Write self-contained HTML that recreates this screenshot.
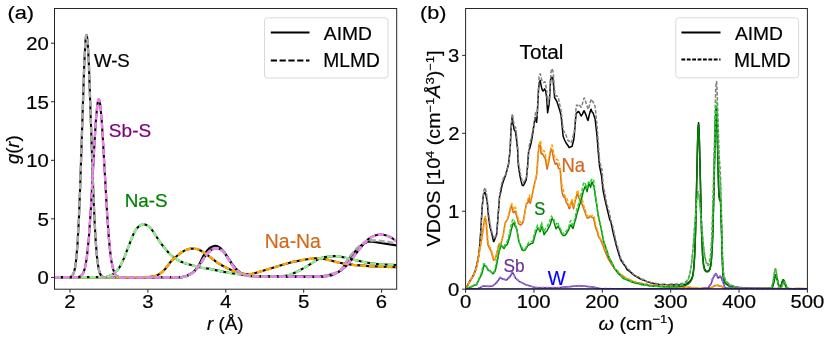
<!DOCTYPE html><html><head><meta charset="utf-8"><style>html,body{margin:0;padding:0;background:#fff;width:830px;height:340px;overflow:hidden} svg{will-change:transform}</style></head><body><svg width="830" height="340" viewBox="0 0 830 340" style="display:block;font-family:'Liberation Sans', sans-serif"><style>text{stroke-width:0.2px}</style>
<rect width="830" height="340" fill="#fff"/>
<defs><clipPath id="ca"><rect x="54.4" y="8.5" width="342.4" height="280.7"/></clipPath><clipPath id="cb"><rect x="465.6" y="8.5" width="341.8" height="280.7"/></clipPath></defs>
<g clip-path="url(#ca)" fill="none" stroke-linejoin="round">
<path d="M54.4,277.3 L143.4,277.3 L148.7,277.1 L153.7,276.4 L155.9,275.8 L157.9,274.9 L160.2,273.5 L162.4,271.8 L165.2,269.0 L169.7,263.0 L171.4,260.9 L175.7,257.0 L180.9,252.8 L183.9,250.9 L186.7,249.6 L189.2,248.9 L191.9,248.6 L194.4,248.7 L196.7,249.0 L198.9,249.7 L200.9,250.7 L206.2,254.1 L217.7,262.8 L222.2,265.5 L227.7,268.4 L232.4,270.5 L236.9,272.2 L241.2,273.4 L244.7,274.0 L248.9,274.2 L252.2,273.8 L258.9,272.0 L283.6,264.4 L290.6,262.4 L303.9,259.7 L310.9,258.7 L315.4,258.3 L319.1,258.3 L322.9,258.7 L326.9,259.6 L339.4,262.8 L346.1,263.9 L353.4,264.9 L368.6,266.1 L396.6,267.3" stroke="#000" stroke-width="2.1"/>
<path d="M54.4,277.3 L103.4,277.3 L105.7,277.0 L107.9,276.5 L110.2,275.6 L112.2,274.6 L114.4,273.0 L117.7,269.7 L119.2,267.8 L120.9,264.7 L124.4,257.4 L126.4,251.8 L133.2,234.7 L135.4,230.3 L137.2,227.9 L139.2,226.0 L141.4,224.8 L143.7,224.3 L145.2,224.5 L146.7,225.1 L148.7,226.5 L150.4,228.1 L153.7,232.2 L160.2,242.5 L165.9,249.7 L168.9,253.0 L171.9,255.9 L174.7,258.1 L177.9,260.1 L181.2,261.8 L183.9,262.9 L197.7,266.8 L201.9,267.7 L209.9,268.9 L221.2,271.4 L231.4,273.3 L246.2,275.3 L254.4,276.0 L262.1,276.5 L269.6,276.6 L276.6,276.5 L281.6,276.2 L286.9,275.5 L291.1,274.4 L297.4,271.5 L304.6,267.6 L312.4,262.9 L317.1,259.8 L319.6,258.5 L321.9,257.7 L324.6,257.1 L333.9,256.1 L337.4,256.2 L341.1,256.7 L363.6,262.0 L370.9,263.4 L379.6,264.2 L396.6,265.0" stroke="#000" stroke-width="2.1"/>
<path d="M54.4,277.3 L68.2,277.3 L70.2,277.0 L71.4,276.4 L72.2,275.8 L72.9,274.8 L73.9,272.5 L74.9,268.6 L75.9,262.2 L77.4,246.0 L78.9,219.1 L80.4,180.6 L84.2,65.8 L85.4,42.1 L85.9,37.1 L86.4,35.0 L86.7,35.1 L86.9,35.8 L87.7,42.1 L88.9,64.6 L93.4,194.9 L94.7,223.5 L95.7,240.9 L96.9,256.4 L98.4,267.6 L99.2,270.9 L99.9,273.2 L100.9,275.2 L102.2,276.5 L103.7,277.1 L105.7,277.3 L120.7,277.4 L180.2,277.3 L182.2,277.1 L184.4,276.6 L186.7,275.9 L188.4,275.0 L192.7,272.3 L194.7,270.6 L196.4,268.6 L198.2,265.9 L199.9,262.9 L203.4,255.7 L206.9,250.8 L208.9,248.7 L210.9,247.2 L213.2,246.2 L215.2,245.8 L216.7,246.0 L218.4,246.7 L220.2,247.8 L221.9,249.4 L224.2,251.9 L231.4,262.9 L235.2,267.9 L237.9,270.6 L240.7,272.9 L242.7,274.1 L244.9,274.9 L247.9,275.6 L251.2,275.9 L275.4,276.3 L303.6,276.6 L317.9,276.4 L322.6,276.2 L327.9,275.3 L334.4,273.5 L337.9,272.2 L340.6,270.5 L342.1,268.8 L350.6,256.5 L355.9,250.4 L358.4,247.8 L360.6,245.8 L364.1,243.5 L366.9,242.1 L369.1,241.5 L372.6,241.7 L396.6,245.4" stroke="#000" stroke-width="2.1"/>
<path d="M54.4,277.3 L74.9,277.3 L77.4,277.2 L79.2,276.9 L80.9,276.0 L82.4,274.4 L83.7,272.0 L84.9,268.1 L85.9,263.3 L86.9,256.8 L88.9,237.4 L90.9,208.4 L94.4,144.4 L95.9,120.3 L97.4,104.3 L98.2,100.4 L98.7,99.4 L98.9,99.5 L99.4,100.5 L100.2,104.5 L101.7,120.3 L102.9,139.6 L107.2,215.1 L108.7,235.9 L109.9,249.4 L111.4,260.9 L112.2,265.1 L113.2,269.3 L114.2,272.2 L115.2,274.2 L116.4,275.7 L117.7,276.6 L119.7,277.2 L122.4,277.4 L147.2,277.5 L180.2,277.3 L182.4,277.1 L184.9,276.5 L187.2,275.7 L189.4,274.7 L192.7,272.8 L194.4,271.5 L197.4,267.8 L205.2,256.1 L207.4,253.2 L209.7,251.0 L211.9,249.4 L213.9,248.3 L215.9,247.9 L217.7,248.2 L219.7,248.9 L221.4,250.0 L223.2,251.6 L225.2,254.1 L233.2,266.2 L234.9,268.4 L236.9,270.4 L239.2,272.3 L241.4,273.8 L243.2,274.6 L245.7,275.4 L248.7,276.0 L251.4,276.3 L275.9,276.8 L308.9,276.9 L321.9,276.7 L326.6,276.3 L331.1,275.4 L335.4,273.7 L339.9,271.1 L344.4,267.6 L346.6,265.4 L349.1,262.5 L364.6,242.5 L367.9,239.4 L369.9,238.0 L371.9,236.9 L374.9,235.6 L378.1,234.8 L380.9,234.5 L383.4,234.7 L386.4,235.5 L390.6,237.2 L392.6,238.5 L396.6,241.5" stroke="#000" stroke-width="2.1"/>
<path d="M54.4,277.3 L143.4,277.3 L148.7,277.1 L153.7,276.4 L155.9,275.8 L157.9,274.9 L160.2,273.5 L162.4,271.8 L165.2,269.0 L169.7,263.0 L171.4,260.9 L175.7,257.0 L180.9,252.8 L183.9,250.9 L186.7,249.6 L189.2,248.9 L191.9,248.6 L194.4,248.7 L196.7,249.0 L198.9,249.7 L200.9,250.7 L206.2,254.1 L217.7,262.8 L222.2,265.5 L227.7,268.4 L232.4,270.5 L236.9,272.2 L241.2,273.4 L244.7,274.0 L248.9,274.2 L252.2,273.8 L258.9,272.0 L283.6,264.4 L290.6,262.4 L303.9,259.7 L310.9,258.7 L315.4,258.3 L319.1,258.3 L322.9,258.7 L326.9,259.6 L339.4,262.8 L346.1,263.9 L353.4,264.9 L368.6,266.1 L396.6,267.3" stroke="#ffa500" stroke-width="2.5" stroke-dasharray="6.1 2.7"/>
<path d="M54.4,277.3 L103.4,277.3 L105.7,277.0 L107.9,276.5 L110.2,275.6 L112.2,274.6 L114.4,273.0 L117.7,269.7 L119.2,267.8 L120.9,264.7 L124.4,257.4 L126.4,251.8 L133.2,234.7 L135.4,230.3 L137.2,227.9 L139.2,226.0 L141.4,224.8 L143.7,224.3 L145.2,224.5 L146.7,225.1 L148.7,226.5 L150.4,228.1 L153.7,232.2 L160.2,242.5 L165.9,249.7 L168.9,253.0 L171.9,255.9 L174.7,258.1 L177.9,260.1 L181.2,261.8 L183.9,262.9 L197.7,266.8 L201.9,267.7 L209.9,268.9 L221.2,271.4 L231.4,273.3 L246.2,275.3 L254.4,276.0 L262.1,276.5 L269.6,276.6 L276.6,276.5 L281.6,276.2 L286.9,275.5 L291.1,274.4 L297.4,271.5 L304.6,267.6 L312.4,262.9 L317.1,259.8 L319.6,258.5 L321.9,257.7 L324.6,257.1 L333.9,256.1 L337.4,256.2 L341.1,256.7 L363.6,262.0 L370.9,263.4 L379.6,264.2 L396.6,265.0" stroke="#90ee90" stroke-width="2.5" stroke-dasharray="6.1 2.7"/>
<path d="M54.4,277.3 L68.2,277.3 L70.2,277.0 L71.4,276.4 L72.2,275.8 L72.9,274.8 L73.9,272.5 L74.9,268.6 L75.9,262.2 L77.4,246.0 L78.9,219.1 L80.4,180.6 L84.2,65.8 L85.4,42.1 L85.9,37.1 L86.4,35.0 L86.7,35.1 L86.9,35.8 L87.7,42.1 L88.9,64.6 L93.4,194.8 L94.7,223.5 L95.7,240.9 L96.9,256.4 L98.4,267.5 L99.2,270.9 L99.9,273.2 L100.9,275.2 L102.2,276.4 L103.2,276.9 L104.4,277.2 L109.4,277.4 L179.9,277.3 L182.4,277.1 L184.7,276.7 L187.9,275.6 L193.2,272.7 L194.7,271.6 L197.7,267.9 L201.4,262.5 L205.4,256.3 L207.7,253.5 L209.9,251.4 L212.4,249.6 L214.4,248.6 L216.2,248.3 L217.9,248.6 L219.7,249.2 L221.2,250.1 L222.7,251.3 L224.7,253.7 L232.4,265.4 L235.2,268.9 L237.7,271.3 L240.4,273.3 L242.2,274.3 L244.4,275.0 L247.9,275.8 L251.2,276.1 L272.6,276.5 L301.9,276.7 L315.4,276.5 L322.1,276.2 L327.4,275.2 L334.6,273.1 L337.9,271.8 L340.6,270.0 L342.1,268.2 L344.4,264.6 L350.1,256.3 L355.4,249.9 L357.9,247.4 L360.1,245.5 L364.4,242.6 L367.4,241.0 L368.9,240.5 L370.9,240.3 L377.9,240.6 L387.1,241.7 L396.6,243.5" stroke="#aaaaaa" stroke-width="2.5" stroke-dasharray="6.1 2.7"/>
<path d="M54.4,277.3 L74.9,277.3 L77.4,277.2 L79.2,276.9 L80.9,276.0 L82.4,274.4 L83.7,272.0 L84.9,268.1 L85.9,263.3 L86.9,256.8 L88.9,237.4 L90.9,208.4 L94.4,144.4 L95.9,120.3 L97.4,104.3 L98.2,100.4 L98.7,99.4 L98.9,99.5 L99.4,100.5 L100.2,104.5 L101.7,120.3 L102.9,139.6 L107.2,215.1 L108.7,235.9 L109.9,249.4 L111.4,260.9 L112.2,265.1 L113.2,269.3 L114.2,272.2 L115.2,274.2 L116.4,275.7 L117.7,276.6 L119.7,277.2 L122.4,277.4 L147.2,277.5 L180.2,277.3 L182.4,277.1 L184.9,276.5 L187.2,275.7 L189.4,274.7 L192.7,272.8 L194.4,271.5 L197.4,267.8 L205.2,256.1 L207.4,253.2 L209.7,251.0 L211.9,249.4 L213.9,248.3 L215.9,247.9 L217.7,248.2 L219.7,248.9 L221.4,250.0 L223.2,251.6 L225.2,254.1 L233.2,266.2 L234.9,268.4 L236.9,270.4 L239.2,272.3 L241.4,273.8 L243.2,274.6 L245.7,275.4 L248.7,276.0 L251.4,276.3 L275.9,276.8 L308.9,276.9 L321.9,276.7 L326.6,276.3 L331.1,275.4 L335.4,273.7 L339.9,271.1 L344.4,267.6 L346.6,265.4 L349.1,262.5 L364.6,242.5 L367.9,239.4 L369.9,238.0 L371.9,236.9 L374.9,235.6 L378.1,234.8 L380.9,234.5 L383.4,234.7 L386.4,235.5 L390.6,237.2 L392.6,238.5 L396.6,241.5" stroke="#ee82ee" stroke-width="2.5" stroke-dasharray="6.1 2.7"/>
</g>
<g fill="none" stroke="#262626" stroke-width="1.0">
<rect x="54.5" y="8.5" width="342.2" height="280.7"/>
<line x1="69.98" y1="289.2" x2="69.98" y2="292.7"/>
<line x1="147.88" y1="289.2" x2="147.88" y2="292.7"/>
<line x1="225.78" y1="289.2" x2="225.78" y2="292.7"/>
<line x1="303.68" y1="289.2" x2="303.68" y2="292.7"/>
<line x1="381.58" y1="289.2" x2="381.58" y2="292.7"/>
<line x1="51" y1="277.40" x2="54.5" y2="277.40"/>
<line x1="51" y1="218.85" x2="54.5" y2="218.85"/>
<line x1="51" y1="160.30" x2="54.5" y2="160.30"/>
<line x1="51" y1="101.75" x2="54.5" y2="101.75"/>
<line x1="51" y1="43.20" x2="54.5" y2="43.20"/>
</g>
<g>
<text x="64.31" y="308.40" font-size="18.07" fill="#000" stroke="#000" textLength="11.26" lengthAdjust="spacingAndGlyphs">2</text>
<text x="142.27" y="308.40" font-size="18.07" fill="#000" stroke="#000" textLength="11.26" lengthAdjust="spacingAndGlyphs">3</text>
<text x="220.14" y="308.40" font-size="18.38" fill="#000" stroke="#000" textLength="11.45" lengthAdjust="spacingAndGlyphs">4</text>
<text x="297.98" y="308.40" font-size="18.38" fill="#000" stroke="#000" textLength="11.45" lengthAdjust="spacingAndGlyphs">5</text>
<text x="375.85" y="308.40" font-size="18.07" fill="#000" stroke="#000" textLength="11.26" lengthAdjust="spacingAndGlyphs">6</text>
<text x="37.47" y="284.20" font-size="18.07" fill="#000" stroke="#000" textLength="11.26" lengthAdjust="spacingAndGlyphs">0</text>
<text x="37.42" y="225.65" font-size="18.38" fill="#000" stroke="#000" textLength="11.45" lengthAdjust="spacingAndGlyphs">5</text>
<text x="26.25" y="167.10" font-size="18.07" fill="#000" stroke="#000" textLength="22.52" lengthAdjust="spacingAndGlyphs">10</text>
<text x="26.01" y="108.55" font-size="18.38" fill="#000" stroke="#000" textLength="22.89" lengthAdjust="spacingAndGlyphs">15</text>
<text x="26.25" y="50.00" font-size="18.07" fill="#000" stroke="#000" textLength="22.52" lengthAdjust="spacingAndGlyphs">20</text>
</g>
<text x="7.43" y="19.09" font-size="18.04" font-style="normal" fill="#000" stroke="#000" textLength="26.60" lengthAdjust="spacingAndGlyphs" >(a)</text>
<text x="93.89" y="66.78" font-size="18.91" font-style="normal" fill="#000" stroke="#000" textLength="35.96" lengthAdjust="spacingAndGlyphs" >W-S</text>
<text x="108.83" y="136.78" font-size="19.26" font-style="normal" fill="#800080" stroke="#800080" textLength="42.35" lengthAdjust="spacingAndGlyphs" >Sb-S</text>
<text x="124.69" y="206.59" font-size="18.77" font-style="normal" fill="#008000" stroke="#008000" textLength="42.94" lengthAdjust="spacingAndGlyphs" >Na-S</text>
<text x="264.85" y="247.87" font-size="19.94" font-style="normal" fill="#d2691e" stroke="#d2691e" textLength="56.03" lengthAdjust="spacingAndGlyphs" >Na-Na</text>
<rect x="264.5" y="17.8" width="123.5" height="60.2" rx="3" ry="3" fill="#fff" fill-opacity="0.8" stroke="#d9d9d9" stroke-width="1"/>
<line x1="270.8" y1="32.6" x2="309.5" y2="32.6" stroke="#000" stroke-width="2"/>
<line x1="270.8" y1="60.4" x2="309.5" y2="60.4" stroke="#000" stroke-width="2" stroke-dasharray="6.2 2.6"/>
<text x="323.80" y="39.80" font-size="19.25" font-style="normal" fill="#000" stroke="#000" textLength="48.14" lengthAdjust="spacingAndGlyphs" >AIMD</text>
<text x="323.36" y="66.60" font-size="19.54" font-style="normal" fill="#000" stroke="#000" textLength="56.54" lengthAdjust="spacingAndGlyphs" >MLMD</text>
<g clip-path="url(#cb)" fill="none" stroke-linejoin="round" stroke-linecap="butt">
<path d="M465.6,288.7 L467.1,286.3 L470.6,279.6 L472.1,277.4 L474.1,273.8 L475.6,269.8 L477.6,261.2 L479.1,253.0 L480.6,233.3 L482.1,208.0 L483.1,197.5 L483.6,194.3 L484.6,192.4 L485.1,192.4 L486.1,195.9 L487.1,201.1 L488.6,217.6 L490.1,227.6 L491.1,230.9 L493.6,241.5 L494.1,241.1 L496.1,235.8 L496.6,234.9 L499.6,196.4 L500.6,192.7 L502.1,185.2 L503.6,180.4 L505.6,175.2 L508.6,164.0 L510.1,149.6 L511.1,128.1 L512.1,116.8 L514.1,129.8 L515.1,130.8 L515.6,132.6 L516.1,136.2 L517.6,149.3 L518.1,161.9 L518.6,167.1 L520.1,176.6 L522.1,185.1 L523.1,185.7 L524.1,184.4 L526.1,180.2 L526.6,176.8 L527.6,165.9 L528.6,151.6 L529.1,149.6 L529.6,148.9 L531.1,143.0 L532.1,137.6 L535.1,117.6 L535.6,118.0 L536.6,122.3 L537.1,117.2 L538.6,88.5 L539.1,84.2 L539.6,82.1 L540.1,80.5 L541.6,87.7 L542.6,90.8 L543.1,91.0 L544.1,89.7 L544.6,88.8 L545.6,91.0 L546.6,97.0 L547.6,112.8 L549.1,104.0 L549.6,98.3 L550.6,79.8 L551.6,77.5 L552.1,77.2 L552.6,77.8 L553.1,79.7 L554.6,97.6 L556.6,101.0 L557.1,102.3 L560.1,111.5 L561.1,115.8 L563.1,136.3 L564.6,140.0 L566.1,143.0 L568.1,145.7 L569.1,147.6 L572.1,146.3 L573.6,140.3 L574.1,137.1 L576.1,113.4 L577.6,112.3 L578.1,111.4 L579.1,112.0 L581.1,116.0 L582.6,113.9 L583.6,111.4 L584.1,110.7 L585.6,114.1 L587.6,119.8 L588.1,120.4 L589.1,115.5 L590.6,110.2 L591.1,109.2 L592.1,112.0 L593.1,113.1 L595.1,119.1 L597.1,136.7 L598.1,150.5 L599.6,166.6 L601.6,176.4 L603.1,190.6 L605.1,200.3 L609.6,219.1 L611.1,222.8 L613.1,232.5 L616.1,244.7 L619.1,255.0 L620.6,259.5 L623.6,264.1 L625.6,266.8 L627.1,269.7 L630.6,272.0 L632.1,273.7 L634.6,275.7 L641.6,279.5 L644.6,280.4 L646.6,281.6 L648.1,281.9 L651.1,283.1 L656.1,284.1 L657.6,283.9 L659.6,284.9 L660.6,285.0 L662.6,284.5 L665.6,284.6 L667.1,285.3 L670.1,284.8 L678.1,285.1 L681.1,285.0 L683.6,284.7 L686.6,283.7 L688.6,282.5 L690.1,281.1 L691.6,278.9 L692.6,276.0 L693.6,270.0 L694.6,256.5 L695.6,229.3 L697.6,141.6 L698.1,126.8 L698.6,122.8 L699.1,130.8 L699.6,148.1 L701.6,231.9 L702.6,254.8 L703.6,265.2 L704.6,269.2 L705.6,270.7 L706.1,271.0 L707.1,271.2 L708.1,271.1 L708.6,270.8 L709.6,269.5 L710.6,266.1 L711.1,262.7 L712.1,249.5 L712.6,238.1 L713.6,203.4 L715.1,133.5 L715.6,116.0 L716.1,108.1 L716.6,112.0 L717.1,126.6 L718.6,186.6 L719.1,196.0 L719.6,197.6 L720.1,196.8 L720.6,200.8 L722.6,266.2 L723.1,274.6 L723.6,278.9 L724.1,280.9 L724.6,281.9 L726.1,283.7 L728.6,285.4 L731.6,286.6 L735.6,287.4 L741.6,288.0 L750.6,288.4 L763.6,288.6 L770.1,288.5 L771.6,287.9 L772.6,286.5 L773.6,283.2 L775.1,276.1 L775.6,274.9 L776.1,275.0 L776.6,276.5 L778.6,285.3 L779.1,286.4 L779.6,287.0 L780.1,287.0 L780.6,286.4 L781.1,285.4 L782.6,280.7 L783.1,279.8 L783.6,280.0 L784.1,281.0 L786.1,287.1 L786.6,287.8 L787.6,288.5 L789.1,288.7 L792.1,288.9 L807.1,289.0" stroke="#000000" stroke-width="1.5"/>
<path d="M465.6,289.0 L466.1,288.9 L469.1,282.2 L470.6,279.7 L472.1,277.8 L474.1,274.3 L475.6,270.1 L479.1,254.9 L480.6,237.1 L482.1,208.4 L482.6,202.0 L483.6,191.6 L484.1,189.8 L485.1,187.6 L485.6,189.4 L487.1,197.5 L489.1,217.4 L490.1,224.6 L491.1,229.2 L494.1,239.1 L496.6,233.9 L497.1,230.7 L499.6,195.9 L500.1,191.1 L502.1,181.9 L504.1,176.8 L505.6,174.3 L508.6,163.7 L509.1,161.0 L510.1,149.9 L511.6,121.5 L512.1,115.5 L512.6,114.0 L514.1,125.4 L514.6,126.7 L515.1,126.8 L515.6,127.4 L516.1,130.8 L517.6,144.4 L518.6,163.2 L520.6,174.9 L521.6,178.6 L522.1,181.6 L522.6,182.4 L523.1,182.7 L523.6,182.2 L524.6,180.8 L526.6,176.5 L528.1,161.9 L529.1,146.1 L531.1,138.7 L532.6,131.4 L534.6,119.9 L535.6,112.5 L536.1,114.2 L537.1,115.7 L539.1,76.7 L540.1,73.7 L540.6,74.9 L541.6,79.8 L542.6,81.3 L543.1,82.5 L543.6,82.5 L544.6,81.8 L545.1,81.9 L546.6,89.5 L547.6,102.9 L548.1,105.4 L549.6,95.0 L551.1,71.1 L552.1,68.7 L553.1,71.7 L555.1,96.0 L556.6,95.7 L557.1,96.1 L558.6,98.8 L560.1,106.6 L561.1,110.4 L563.1,128.5 L563.6,130.8 L565.1,133.0 L568.1,140.8 L569.1,141.3 L569.6,140.8 L571.1,142.5 L572.1,140.2 L573.1,135.8 L574.1,133.2 L574.6,128.7 L576.1,107.0 L576.6,105.0 L577.6,105.7 L578.1,104.6 L578.6,104.4 L580.6,106.5 L581.1,107.3 L581.6,106.5 L584.1,97.9 L584.6,98.1 L588.1,109.3 L588.6,108.4 L591.1,99.2 L591.6,99.5 L592.1,101.0 L593.1,101.9 L595.1,106.4 L597.1,126.3 L599.6,160.9 L600.1,163.8 L601.6,167.8 L602.1,170.6 L603.1,184.2 L603.6,187.8 L604.6,191.8 L606.6,202.9 L609.6,213.7 L611.1,221.1 L612.6,225.8 L616.1,241.8 L621.1,259.1 L622.6,261.1 L624.1,263.9 L625.6,265.5 L627.1,268.1 L628.6,269.3 L630.6,271.6 L632.1,272.4 L633.6,274.7 L635.1,275.0 L636.6,276.4 L638.6,276.8 L641.6,279.2 L643.1,279.3 L643.6,279.5 L646.6,281.6 L649.6,281.7 L651.1,282.9 L652.6,282.6 L654.1,282.7 L659.1,284.5 L660.6,284.3 L662.6,284.6 L664.1,284.4 L667.1,285.2 L669.6,285.4 L670.1,284.0 L677.6,284.1 L680.1,283.8 L682.6,283.3 L685.1,282.2 L686.1,281.4 L687.1,280.3 L688.6,277.5 L689.6,274.3 L690.6,269.4 L691.6,262.3 L693.1,246.8 L696.6,199.7 L697.6,192.5 L698.1,191.5 L698.6,192.5 L699.6,199.4 L702.6,236.0 L703.6,246.4 L704.6,254.2 L705.6,259.5 L706.6,262.6 L707.6,264.0 L708.1,264.1 L708.6,263.8 L709.1,262.8 L710.1,258.5 L710.6,254.4 L711.6,240.1 L712.1,229.0 L713.1,196.9 L715.6,92.0 L716.1,82.2 L716.6,81.6 L717.1,90.2 L719.1,154.9 L720.1,168.0 L720.6,178.4 L722.6,257.5 L723.1,267.7 L723.6,273.2 L724.1,276.1 L725.1,279.1 L726.6,281.6 L727.6,282.7 L729.1,283.9 L732.1,285.5 L736.1,286.6 L742.1,287.5 L750.6,288.1 L763.1,288.4 L769.6,288.2 L770.6,287.9 L771.1,287.5 L772.1,285.7 L773.1,281.3 L774.6,271.1 L775.1,269.0 L775.6,268.8 L776.1,270.6 L778.1,283.5 L778.6,285.4 L779.1,286.7 L779.6,287.4 L780.1,287.7 L780.6,287.7 L781.6,286.9 L783.6,282.4 L784.1,281.7 L784.6,281.8 L785.1,282.7 L787.1,287.4 L787.6,288.0 L788.6,288.5 L793.1,288.8 L807.1,289.0" stroke="#808080" stroke-width="1.5" stroke-dasharray="3.7 1.6"/>
<path d="M465.6,289.1 L468.1,284.3 L473.6,275.4 L475.1,270.7 L476.6,267.2 L481.6,239.3 L484.6,218.7 L485.1,217.6 L486.1,222.5 L487.6,241.9 L488.1,245.4 L489.6,248.5 L490.6,249.9 L491.1,251.2 L493.6,260.2 L494.1,260.1 L495.1,259.5 L496.1,256.1 L498.6,245.3 L499.1,243.9 L500.6,243.9 L501.1,243.2 L502.1,239.1 L503.1,235.9 L505.1,223.1 L507.6,218.8 L508.6,216.0 L510.6,208.0 L511.1,206.6 L511.6,205.7 L513.1,212.3 L513.6,212.8 L514.6,211.3 L515.1,211.1 L516.6,215.7 L518.6,223.7 L520.1,224.8 L520.6,225.0 L521.6,224.3 L523.1,222.0 L526.1,205.1 L526.6,203.9 L527.6,203.1 L528.1,202.1 L529.1,198.1 L530.1,203.2 L530.6,202.5 L534.6,183.2 L536.1,178.1 L536.6,175.3 L538.6,148.8 L539.1,145.1 L540.1,144.9 L541.1,153.6 L541.6,154.0 L542.1,153.5 L542.6,153.7 L544.1,157.0 L544.6,156.9 L545.1,158.3 L545.6,160.7 L547.1,169.1 L548.6,162.9 L550.6,150.7 L551.6,149.4 L552.1,150.7 L553.6,159.1 L555.1,163.8 L555.6,164.2 L556.6,163.1 L557.1,163.7 L557.6,165.0 L558.6,168.5 L559.6,168.8 L560.1,169.3 L561.6,188.8 L562.1,192.2 L563.1,195.9 L563.6,196.8 L564.6,197.2 L565.1,198.3 L566.1,201.7 L566.6,202.9 L567.1,203.5 L568.1,205.4 L569.1,208.4 L569.6,208.7 L571.6,201.2 L572.1,202.1 L573.1,207.2 L573.6,208.7 L575.1,200.9 L576.1,198.3 L577.1,193.6 L577.6,193.9 L579.1,198.5 L579.6,199.7 L581.6,203.0 L587.1,218.0 L588.6,218.1 L590.1,216.3 L590.6,216.2 L592.1,217.6 L593.1,217.7 L593.6,218.2 L595.6,227.7 L597.1,231.4 L598.6,236.8 L600.1,238.8 L603.1,245.7 L604.6,250.3 L608.1,258.5 L611.6,264.4 L616.1,270.8 L617.6,272.0 L620.6,275.2 L622.6,275.8 L624.1,276.9 L625.6,278.8 L627.1,279.0 L630.1,279.9 L633.6,281.9 L635.1,282.2 L637.1,282.9 L638.6,282.9 L640.1,283.8 L641.6,283.3 L644.6,284.5 L646.6,284.3 L648.1,285.0 L649.6,285.4 L652.6,285.6 L654.6,285.2 L656.1,285.5 L657.6,285.4 L659.1,286.1 L661.1,285.8 L664.1,286.6 L667.1,286.7 L669.1,286.4 L672.1,286.8 L675.1,286.6 L676.6,286.8 L678.6,286.7 L680.1,287.0 L681.6,287.6 L689.6,287.3 L694.1,288.2 L696.1,287.9 L697.6,288.3 L699.1,288.4 L704.1,288.3 L705.6,288.0 L707.1,288.2 L708.6,287.9 L710.1,287.9 L712.1,287.2 L715.1,285.5 L717.1,285.4 L721.6,286.5 L723.1,287.8 L724.1,288.2 L725.1,288.2 L726.6,288.4 L728.1,288.3 L729.6,288.6 L732.6,288.6 L734.6,288.3 L739.1,288.7 L740.6,288.3 L742.6,288.7 L745.6,288.6 L748.6,288.8 L753.6,288.2 L755.1,288.7 L756.6,288.8 L758.6,288.5 L763.1,288.7 L764.6,288.3 L766.6,288.8 L771.1,288.5 L774.1,288.8 L777.6,288.8 L779.1,288.3 L779.6,288.3 L784.1,288.8 L785.6,288.4 L787.6,288.8 L788.6,288.8 L790.6,288.4 L792.1,288.7 L795.1,288.4 L798.6,288.6 L803.1,288.4 L804.6,288.7 L807.1,288.8" stroke="#d2691e" stroke-width="1.5"/>
<path d="M465.6,289.2 L466.1,289.0 L468.6,283.7 L472.1,277.2 L473.6,275.4 L474.1,274.5 L477.1,266.7 L481.6,238.8 L483.1,231.2 L485.1,216.5 L485.6,216.4 L486.6,221.4 L488.1,242.0 L488.6,244.4 L489.6,246.6 L491.1,249.0 L494.1,260.4 L495.1,259.1 L495.6,257.9 L499.1,244.1 L499.6,243.5 L500.6,243.0 L501.1,242.5 L501.6,241.3 L503.6,233.6 L505.1,224.1 L505.6,222.3 L507.6,219.1 L509.6,210.0 L511.6,203.7 L512.1,203.7 L513.6,210.0 L515.1,207.2 L515.6,208.0 L517.1,215.2 L519.1,220.7 L520.1,221.6 L520.6,222.6 L521.1,222.8 L521.6,222.7 L523.1,220.7 L523.6,220.6 L526.6,202.3 L528.1,199.2 L529.1,196.0 L529.6,195.1 L530.6,201.1 L531.1,199.9 L534.1,187.4 L535.1,181.1 L536.1,175.9 L536.6,174.5 L537.1,170.9 L539.1,144.9 L539.6,141.7 L540.1,140.8 L540.6,140.9 L541.6,150.2 L542.1,150.9 L542.6,151.2 L543.6,150.6 L544.1,150.6 L545.1,153.3 L547.1,164.1 L547.6,165.4 L548.6,159.0 L551.1,146.7 L552.1,144.9 L554.1,154.7 L555.1,158.1 L555.6,159.2 L556.1,159.5 L556.6,159.3 L557.1,159.5 L558.1,160.1 L558.6,161.8 L560.6,169.6 L562.1,186.1 L562.6,188.0 L563.1,189.2 L564.6,195.4 L565.1,196.2 L566.1,196.8 L566.6,197.5 L567.6,200.2 L569.6,207.3 L570.1,206.7 L572.1,199.5 L572.6,201.0 L573.6,206.0 L574.1,206.3 L575.6,197.3 L577.6,190.0 L579.1,195.6 L579.6,196.1 L580.6,196.0 L581.1,196.6 L582.1,198.8 L584.1,206.8 L585.6,210.9 L587.1,216.2 L587.6,216.5 L588.6,215.0 L589.1,215.0 L590.6,216.0 L592.1,215.8 L593.6,215.3 L594.1,216.4 L596.1,226.3 L598.6,234.0 L600.1,237.8 L603.1,243.3 L605.1,248.9 L606.6,252.6 L608.1,255.5 L609.6,259.5 L611.1,261.9 L614.1,267.5 L616.1,269.9 L619.1,272.4 L620.6,274.0 L624.1,276.4 L627.1,278.9 L629.1,279.1 L632.1,280.9 L635.1,281.6 L637.6,282.8 L640.1,282.9 L641.6,283.4 L643.1,283.6 L644.6,284.2 L646.6,284.2 L649.6,285.3 L651.1,285.5 L652.6,285.2 L654.6,285.4 L656.1,285.3 L662.1,286.2 L665.6,285.7 L667.1,286.1 L670.1,286.0 L672.1,286.7 L673.6,286.3 L675.1,286.8 L676.6,286.7 L678.6,287.3 L680.1,287.2 L681.6,286.7 L683.1,286.9 L684.6,287.5 L688.1,287.4 L689.6,287.8 L691.1,287.9 L696.1,287.6 L697.6,287.9 L699.1,287.8 L701.1,288.3 L702.6,288.2 L704.1,287.8 L705.6,288.2 L707.1,287.7 L708.6,287.7 L710.1,288.0 L710.6,288.0 L712.1,287.1 L713.6,286.7 L715.1,285.8 L717.6,284.9 L718.6,285.0 L720.1,286.1 L721.6,286.3 L724.1,288.3 L725.1,288.6 L728.1,288.6 L729.6,288.3 L732.6,288.6 L734.6,288.1 L736.1,288.7 L737.6,288.7 L739.1,288.3 L740.6,288.6 L744.1,288.2 L745.6,288.6 L747.1,288.1 L748.6,288.6 L750.1,288.8 L752.1,288.3 L753.6,288.8 L755.1,288.2 L756.6,288.7 L758.6,288.4 L760.1,288.8 L761.6,288.4 L763.1,288.8 L765.1,288.2 L766.6,288.3 L768.1,288.8 L771.1,288.6 L772.6,288.2 L776.1,288.5 L777.6,288.2 L779.1,289.0 L782.6,289.0 L787.1,288.3 L788.6,288.8 L790.6,288.4 L792.1,288.7 L795.1,288.7 L797.1,288.4 L798.6,288.4 L800.1,288.7 L801.6,288.4 L803.1,288.8 L804.6,288.5 L807.1,288.6" stroke="#ffa500" stroke-width="1.5" stroke-dasharray="3.7 1.6"/>
<path d="M465.6,288.6 L467.1,288.3 L468.6,287.6 L471.6,286.8 L473.6,285.5 L475.1,284.9 L476.1,285.0 L476.6,284.7 L480.1,277.1 L481.6,274.6 L484.1,265.0 L485.1,265.9 L486.1,266.3 L488.1,270.1 L488.6,270.5 L489.6,270.5 L490.6,271.4 L492.6,273.6 L493.1,273.7 L494.6,271.9 L495.1,271.2 L496.6,265.1 L499.1,251.6 L501.1,245.3 L503.6,248.2 L504.1,248.5 L505.6,245.6 L507.1,244.6 L507.6,243.7 L510.1,235.2 L511.1,230.3 L513.1,223.5 L513.6,222.9 L514.1,222.9 L515.1,225.9 L516.6,228.8 L517.1,230.5 L519.1,242.5 L520.1,244.5 L521.6,248.8 L522.1,249.8 L523.1,250.4 L525.1,250.1 L527.6,245.9 L528.6,244.7 L529.1,244.4 L529.6,244.7 L531.1,243.4 L532.6,243.3 L533.1,242.8 L534.6,236.8 L536.1,231.8 L537.6,228.5 L538.1,227.9 L539.6,231.0 L540.1,231.7 L541.6,227.4 L542.1,226.6 L544.1,234.7 L545.6,232.3 L547.1,230.7 L550.1,224.8 L552.1,218.5 L553.6,220.4 L555.1,226.0 L556.1,228.8 L557.6,226.6 L558.1,226.2 L560.1,230.1 L561.6,233.7 L562.6,235.0 L563.1,235.4 L564.6,235.5 L565.1,235.2 L566.1,234.1 L568.6,229.9 L569.6,227.2 L570.6,225.3 L571.1,224.9 L572.6,228.3 L573.1,228.4 L574.1,224.1 L575.6,219.5 L576.6,215.1 L582.1,196.5 L583.6,190.1 L584.1,189.4 L585.1,186.4 L585.6,186.1 L587.1,191.7 L588.6,184.0 L589.1,183.7 L590.6,187.4 L591.6,182.6 L592.1,182.0 L593.6,186.1 L594.1,187.0 L595.1,194.9 L597.1,207.1 L598.1,215.3 L601.6,230.4 L603.1,238.8 L604.1,242.9 L605.1,245.4 L608.6,256.4 L609.6,258.8 L612.6,264.0 L614.6,269.0 L616.1,270.2 L617.6,272.6 L619.1,274.3 L620.6,275.4 L623.1,278.2 L625.6,279.4 L630.1,281.2 L632.1,282.3 L633.6,282.6 L636.6,283.6 L638.6,283.5 L639.6,283.8 L641.6,284.8 L643.1,284.7 L644.6,285.0 L646.6,285.0 L648.1,285.6 L649.6,285.9 L651.1,285.6 L653.1,286.2 L654.6,286.2 L656.1,285.9 L657.6,286.5 L659.1,286.5 L660.6,286.7 L662.6,286.6 L664.1,287.0 L665.6,287.1 L667.6,286.6 L669.6,287.1 L670.1,286.7 L677.1,286.7 L682.1,286.2 L685.6,285.4 L688.1,284.1 L689.6,282.8 L690.6,281.6 L692.1,278.7 L693.1,274.7 L694.1,265.7 L695.1,246.1 L695.6,230.6 L697.6,143.3 L698.1,128.6 L698.6,124.6 L699.1,132.6 L699.6,149.8 L701.6,233.0 L702.6,255.7 L703.6,266.0 L704.6,270.0 L705.1,270.9 L706.1,271.7 L707.6,271.9 L708.6,271.5 L709.6,270.2 L710.6,266.8 L711.6,258.3 L712.1,250.4 L713.1,224.0 L715.1,135.8 L715.6,118.5 L716.1,110.6 L716.6,114.5 L717.1,128.9 L718.6,188.5 L719.1,198.0 L719.6,200.0 L720.1,199.4 L720.6,203.5 L721.1,216.0 L722.1,253.2 L722.6,267.1 L723.1,275.3 L723.6,279.4 L724.1,281.4 L724.6,282.4 L726.1,284.1 L728.6,285.8 L731.6,286.9 L735.6,287.7 L741.6,288.2 L750.6,288.6 L763.6,288.8 L770.1,288.6 L771.6,288.0 L772.6,286.6 L773.6,283.3 L775.1,276.2 L775.6,275.0 L776.1,275.1 L776.6,276.6 L778.6,285.4 L779.1,286.5 L779.6,287.1 L780.1,287.0 L780.6,286.5 L781.1,285.4 L782.6,280.8 L783.1,279.9 L783.6,280.0 L784.1,281.1 L786.1,287.1 L786.6,287.9 L787.6,288.6 L789.1,288.8 L792.6,288.9 L807.1,289.0" stroke="#008000" stroke-width="1.5"/>
<path d="M465.6,288.4 L467.1,287.8 L469.1,287.2 L472.1,285.9 L475.1,285.4 L476.1,284.8 L478.6,279.5 L480.1,275.6 L481.1,273.5 L483.6,263.9 L484.1,263.7 L485.6,264.7 L488.1,269.4 L489.6,271.0 L490.6,271.4 L492.1,272.9 L492.6,273.1 L494.6,271.1 L498.1,253.5 L500.6,243.3 L503.6,248.1 L505.6,243.3 L507.1,241.7 L509.6,233.4 L510.6,227.6 L512.1,221.4 L512.6,219.8 L513.6,219.2 L515.1,222.6 L516.6,228.4 L518.6,240.8 L521.6,247.0 L523.1,249.1 L524.6,249.7 L526.6,246.5 L528.6,242.6 L529.6,241.9 L531.1,241.4 L532.6,241.3 L535.6,229.1 L537.6,225.1 L539.1,229.3 L539.6,230.0 L541.6,222.4 L543.6,231.8 L544.1,231.3 L545.6,228.5 L546.6,227.5 L547.1,226.6 L549.6,221.2 L550.6,218.1 L551.6,216.0 L552.1,217.3 L553.6,218.6 L555.6,225.2 L556.6,223.4 L557.6,222.2 L558.6,225.1 L560.1,228.0 L562.6,234.1 L563.1,234.0 L564.6,232.2 L565.6,231.7 L568.1,229.1 L568.6,227.9 L569.6,223.6 L570.6,220.4 L572.6,224.9 L574.1,221.3 L574.6,219.9 L576.1,212.3 L577.6,206.9 L579.1,202.6 L582.1,189.9 L583.1,184.4 L583.6,183.3 L584.1,182.4 L584.6,182.4 L585.1,183.2 L586.6,188.4 L587.1,187.1 L588.1,183.0 L588.6,182.0 L590.1,183.5 L591.1,180.1 L591.6,179.4 L592.1,180.2 L593.6,179.7 L597.6,211.5 L600.1,223.4 L601.6,232.0 L603.6,241.5 L604.6,244.7 L606.6,249.9 L608.6,255.8 L609.6,258.1 L611.6,261.9 L614.1,268.0 L614.6,268.8 L616.1,269.9 L617.6,271.3 L620.6,275.0 L622.6,278.0 L624.1,278.2 L627.1,279.3 L628.6,280.7 L629.1,280.9 L631.6,281.4 L636.6,282.9 L638.1,283.6 L638.6,283.7 L640.1,283.6 L641.6,283.8 L643.1,284.5 L644.6,284.7 L646.6,285.6 L648.1,285.3 L651.1,286.1 L652.6,285.9 L654.6,286.5 L657.6,286.1 L659.1,286.3 L660.6,286.1 L662.6,286.6 L664.1,286.6 L665.6,287.2 L667.6,287.2 L669.6,286.9 L670.1,286.0 L676.1,285.9 L680.6,285.3 L683.6,284.4 L685.6,283.2 L687.1,281.7 L688.6,278.8 L690.1,273.4 L691.1,267.5 L692.1,259.2 L693.1,248.4 L696.6,201.7 L697.6,194.6 L698.1,193.6 L698.6,194.5 L699.6,201.3 L703.1,243.0 L704.1,252.0 L705.1,258.5 L706.1,262.6 L706.6,264.0 L707.6,265.5 L708.1,265.6 L708.6,265.4 L709.1,264.6 L710.1,260.8 L711.1,251.9 L712.1,234.4 L713.1,205.6 L715.6,111.4 L716.1,102.5 L716.6,102.0 L717.1,109.9 L719.1,168.0 L720.1,179.6 L720.6,189.0 L722.6,260.7 L723.1,269.8 L723.6,274.8 L724.1,277.5 L725.1,280.3 L726.6,282.5 L729.1,284.6 L732.1,286.1 L736.1,287.1 L742.6,287.9 L752.1,288.4 L764.6,288.6 L768.1,288.5 L770.1,288.2 L771.1,287.7 L772.1,285.9 L773.1,281.5 L774.6,271.3 L775.1,269.2 L775.6,269.0 L776.1,270.7 L778.1,283.6 L778.6,285.5 L779.1,286.8 L779.6,287.5 L780.1,287.8 L780.6,287.8 L781.6,287.0 L783.6,282.5 L784.1,281.8 L784.6,281.9 L785.1,282.8 L787.1,287.5 L787.6,288.0 L788.6,288.6 L793.1,288.9 L807.1,289.0" stroke="#32cd32" stroke-width="1.5" stroke-dasharray="3.7 1.6"/>
<path d="M465.6,289.0 L477.1,289.0 L477.6,288.9 L483.6,285.9 L488.6,286.4 L492.6,285.9 L493.1,285.7 L496.6,282.7 L500.1,277.9 L500.6,277.8 L503.1,279.3 L506.6,280.0 L507.1,279.7 L510.1,276.7 L512.6,272.4 L515.6,278.2 L519.6,281.7 L525.6,284.7 L535.1,287.4 L546.6,287.7 L560.1,287.5 L579.6,285.8 L592.6,287.0 L599.6,288.4 L620.1,288.8 L700.1,288.8 L708.1,288.0 L711.1,283.7 L713.1,277.9 L716.1,273.5 L718.1,278.1 L720.6,276.4 L723.1,282.3 L725.1,288.0 L807.1,289.0" stroke="#663399" stroke-width="1.5"/>
<path d="M465.6,289.0 L477.1,289.0 L483.1,285.8 L488.6,286.2 L492.6,285.7 L496.1,282.6 L500.1,277.1 L503.1,278.9 L506.6,279.4 L510.1,275.7 L512.1,271.9 L512.6,272.2 L515.1,277.2 L515.6,277.9 L519.6,281.5 L525.6,284.6 L531.1,286.3 L535.1,287.3 L546.1,287.6 L559.6,287.4 L579.1,285.6 L592.6,286.9 L599.6,288.4 L619.6,288.8 L699.6,288.8 L707.6,288.0 L708.1,287.6 L710.6,283.9 L712.6,277.8 L715.6,273.1 L716.1,273.2 L717.6,277.4 L718.1,277.4 L720.1,275.9 L720.6,276.5 L722.6,281.4 L724.6,287.6 L725.1,287.9 L807.1,289.0" stroke="#9370db" stroke-width="1.5" stroke-dasharray="3.7 1.6"/>
<path d="M465.6,288.9 L807.4,288.9" stroke="#00008b" stroke-width="1.5"/>
</g>
<g fill="none" stroke="#262626" stroke-width="1.0">
<rect x="465.6" y="8.5" width="341.8" height="280.7"/>
<line x1="465.60" y1="289.2" x2="465.60" y2="292.7"/>
<line x1="533.96" y1="289.2" x2="533.96" y2="292.7"/>
<line x1="602.32" y1="289.2" x2="602.32" y2="292.7"/>
<line x1="670.68" y1="289.2" x2="670.68" y2="292.7"/>
<line x1="739.04" y1="289.2" x2="739.04" y2="292.7"/>
<line x1="807.40" y1="289.2" x2="807.40" y2="292.7"/>
<line x1="462.1" y1="289.20" x2="465.6" y2="289.20"/>
<line x1="462.1" y1="211.25" x2="465.6" y2="211.25"/>
<line x1="462.1" y1="133.30" x2="465.6" y2="133.30"/>
<line x1="462.1" y1="55.35" x2="465.6" y2="55.35"/>
</g>
<g>
<text x="459.93" y="308.40" font-size="18.07" fill="#000" stroke="#000" textLength="11.26" lengthAdjust="spacingAndGlyphs">0</text>
<text x="516.67" y="308.40" font-size="18.07" fill="#000" stroke="#000" textLength="33.77" lengthAdjust="spacingAndGlyphs">100</text>
<text x="585.26" y="308.40" font-size="18.07" fill="#000" stroke="#000" textLength="33.77" lengthAdjust="spacingAndGlyphs">200</text>
<text x="653.73" y="308.40" font-size="18.07" fill="#000" stroke="#000" textLength="33.77" lengthAdjust="spacingAndGlyphs">300</text>
<text x="722.27" y="308.40" font-size="18.07" fill="#000" stroke="#000" textLength="33.77" lengthAdjust="spacingAndGlyphs">400</text>
<text x="790.45" y="308.40" font-size="18.07" fill="#000" stroke="#000" textLength="33.77" lengthAdjust="spacingAndGlyphs">500</text>
<text x="447.97" y="296.00" font-size="18.07" fill="#000" stroke="#000" textLength="11.26" lengthAdjust="spacingAndGlyphs">0</text>
<text x="448.03" y="218.05" font-size="18.38" fill="#000" stroke="#000" textLength="11.45" lengthAdjust="spacingAndGlyphs">1</text>
<text x="448.21" y="140.10" font-size="18.07" fill="#000" stroke="#000" textLength="11.26" lengthAdjust="spacingAndGlyphs">2</text>
<text x="448.09" y="62.15" font-size="18.07" fill="#000" stroke="#000" textLength="11.26" lengthAdjust="spacingAndGlyphs">3</text>
</g>
<text x="420.14" y="19.09" font-size="18.04" font-style="normal" fill="#000" stroke="#000" textLength="26.38" lengthAdjust="spacingAndGlyphs" >(b)</text>
<text x="519.53" y="59.47" font-size="19.94" font-style="normal" fill="#000" stroke="#000" textLength="43.86" lengthAdjust="spacingAndGlyphs" >Total</text>
<text x="561.42" y="172.28" font-size="19.65" font-style="normal" fill="#d2691e" stroke="#d2691e" textLength="23.65" lengthAdjust="spacingAndGlyphs" >Na</text>
<text x="534.24" y="214.78" font-size="19.05" font-style="normal" fill="#008000" stroke="#008000" textLength="11.09" lengthAdjust="spacingAndGlyphs" >S</text>
<text x="503.41" y="271.59" font-size="18.45" font-style="normal" fill="#663399" stroke="#663399" textLength="21.08" lengthAdjust="spacingAndGlyphs" >Sb</text>
<text x="547.69" y="285.10" font-size="20.71" font-style="normal" fill="#0000ff" stroke="#0000ff" textLength="18.03" lengthAdjust="spacingAndGlyphs" >W</text>
<rect x="675.8" y="17.8" width="122.80000000000007" height="60.0" rx="3" ry="3" fill="#fff" fill-opacity="0.8" stroke="#d9d9d9" stroke-width="1"/>
<line x1="681.4" y1="32.6" x2="720.5" y2="32.6" stroke="#000" stroke-width="2"/>
<line x1="681.4" y1="59.4" x2="720.5" y2="59.4" stroke="#000" stroke-width="2" stroke-dasharray="3.8 1.6"/>
<text x="734.90" y="39.80" font-size="19.25" font-style="normal" fill="#000" stroke="#000" textLength="48.03" lengthAdjust="spacingAndGlyphs" >AIMD</text>
<text x="734.06" y="66.60" font-size="19.54" font-style="normal" fill="#000" stroke="#000" textLength="56.54" lengthAdjust="spacingAndGlyphs" >MLMD</text>
<text transform="translate(18.8,164.1) rotate(-90)" x="0" y="0" font-size="17.5" fill="#000" stroke="#000" textLength="28.8" lengthAdjust="spacingAndGlyphs"><tspan font-style="italic">g</tspan>(<tspan font-style="italic">r</tspan>)</text>
<text x="207.0" y="329.6" font-size="17.5" fill="#000" stroke="#000" textLength="36.5" lengthAdjust="spacingAndGlyphs"><tspan font-style="italic">r</tspan> (Å)</text>
<text x="598.5" y="329.6" font-size="17.5" fill="#000" stroke="#000" textLength="75.5" lengthAdjust="spacingAndGlyphs"><tspan font-style="italic">ω</tspan> (cm<tspan font-size="11.6" dy="-6.2">−1</tspan><tspan dy="6.2">)</tspan></text>
<text transform="translate(439.9,246.4) rotate(-90)" x="0" y="0" font-size="17.5" fill="#000" stroke="#000" textLength="196" lengthAdjust="spacingAndGlyphs">VDOS [10<tspan font-size="11.6" dy="-6.2">4</tspan><tspan dy="6.2"> (cm</tspan><tspan font-size="11.6" dy="-6.2">−1</tspan><tspan dy="6.2" font-style="italic">Å</tspan><tspan font-size="11.6" dy="-6.2">3</tspan><tspan dy="6.2">)</tspan><tspan font-size="11.6" dy="-6.2">−1</tspan><tspan dy="6.2">]</tspan></text>
</svg></body></html>
